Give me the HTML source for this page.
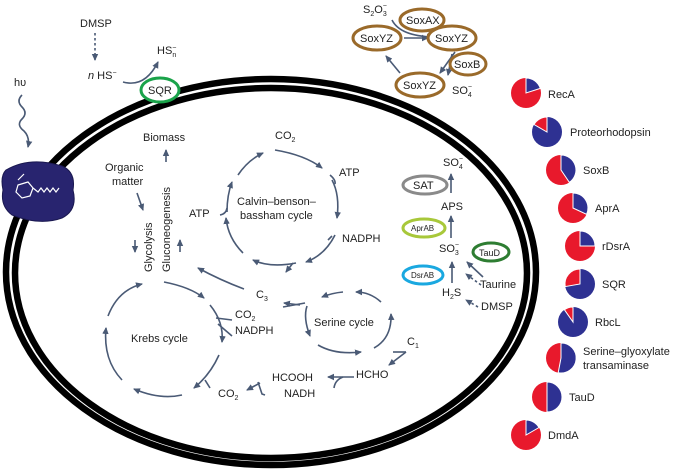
<!DOCTYPE html>
<html><head><meta charset="utf-8"><style>
html,body{margin:0;padding:0;background:#fff;}
svg{display:block;font-family:"Liberation Sans",sans-serif;}
text{fill:#222;font-size:11px;}
.a{fill:none;stroke:#4a5a75;stroke-width:1.6;marker-end:url(#ah);}
.d{fill:none;stroke:#4a5a75;stroke-width:1.6;stroke-dasharray:2.5 2.5;marker-end:url(#ah);}
.l{fill:none;stroke:#4a5a75;stroke-width:1.6;}
.s{font-size:7px;}
</style></head><body>
<svg width="685" height="474" viewBox="0 0 685 474">
<defs>
<marker id="ah" markerWidth="8" markerHeight="8" refX="6" refY="4" orient="auto" markerUnits="userSpaceOnUse">
<path d="M0,0.8 L7,4 L0,7.2 Z" fill="#4a5a75"/></marker>
</defs>
<!-- membrane -->
<ellipse cx="271" cy="272" rx="265" ry="193" fill="none" stroke="#000" stroke-width="6.5"/>
<ellipse cx="271" cy="273" rx="256" ry="185" fill="none" stroke="#000" stroke-width="6.5"/>
<!-- protein -->
<path d="M6,170 Q30,156 62,166 Q76,172 73,190 Q78,210 62,218 Q40,226 12,215 Q0,206 3,190 Q0,176 6,170Z" fill="#28246f" stroke="#1a1850" stroke-width="1"/>
<path d="M18,180 L24,174 M18,185 L28,182 L33,188 L30,196 L22,198 L16,192 Z M33,188 L38,192 L41,188 L44,192 L47,188 L50,192 L53,188 L56,192 L59,188" fill="none" stroke="#fff" stroke-width="1.2"/>
<!-- hv -->
<text x="14" y="86">hυ</text>
<path class="a" d="M22,95 q-6,6 0,12 q6,6 0,12 q-6,6 2,12 q6,6 4,16"/>
<!-- DMSP top -->
<text x="80" y="27">DMSP</text>
<path class="d" d="M95,33 L95,60"/>
<text x="88" y="79"><tspan font-style="italic">n</tspan> HS<tspan dy="-4" class="s">−</tspan></text>
<path class="a" d="M123,82 Q145,88 158,62"/>
<text x="157" y="54">HS<tspan dy="-4" class="s">−</tspan><tspan dx="-4" dy="7" class="s">n</tspan></text>
<ellipse cx="160" cy="90" rx="19" ry="12" fill="#fff" stroke="#1aa34a" stroke-width="3"/>
<text x="148" y="94">SQR</text>
<!-- Sox -->
<text x="363" y="13">S<tspan dy="3" class="s">2</tspan><tspan dy="-3">O</tspan><tspan dy="3" class="s">3</tspan><tspan dy="-8" dx="-4" class="s">−</tspan></text>
<path class="a" d="M392,20 Q400,36 433,37"/>
<path class="a" d="M404,38 L428,38"/>
<path class="a" d="M455,52 L440,73"/>
<path class="a" d="M452,54 L448,75"/>
<path class="a" d="M400,73 L386,56"/>
<g fill="#fff" stroke="#9a6a2a" stroke-width="3">
<ellipse cx="422" cy="20" rx="22" ry="11"/>
<ellipse cx="377" cy="38" rx="24" ry="12"/>
<ellipse cx="452" cy="38" rx="24" ry="12"/>
<ellipse cx="468" cy="64" rx="18" ry="11"/>
<ellipse cx="420" cy="85" rx="24" ry="12"/>
</g>
<text x="406" y="24">SoxAX</text>
<text x="360" y="42">SoxYZ</text>
<text x="435" y="42">SoxYZ</text>
<text x="454" y="68">SoxB</text>
<text x="403" y="89">SoxYZ</text>
<text x="452" y="94">SO<tspan dy="3" class="s">4</tspan><tspan dy="-8" dx="-4" class="s">−</tspan></text>
<!-- Glycolysis -->
<text x="143" y="141">Biomass</text>
<path class="a" d="M166,162 L166,150"/>
<text x="105" y="171">Organic</text>
<text x="112" y="185">matter</text>
<path class="a" d="M137,193 L143,210"/>
<path class="a" d="M135,240 L135,252"/>
<path class="a" d="M180,252 L180,240"/>
<text transform="translate(152,272) rotate(-90)">Glycolysis</text>
<text transform="translate(170,272) rotate(-90)">Gluconeogenesis</text>
<!-- Calvin -->
<text x="275" y="139">CO<tspan dy="3" class="s">2</tspan></text>
<text x="339" y="176">ATP</text>
<text x="189" y="217">ATP</text>
<text x="342" y="242">NADPH</text>
<text x="237" y="205">Calvin–benson–</text>
<text x="240" y="219">bassham cycle</text>
<path class="a" d="M275,150 Q305,155 322,168"/>
<path class="l" d="M330,175 Q336,180 335,184"/>
<path class="a" d="M332,180 Q340,195 337,218"/>
<path class="a" d="M335,235 Q325,255 306,262"/>
<path class="l" d="M328,240 L332,236"/>
<path class="a" d="M296,263 Q270,268 253,260"/>
<path class="a" d="M293,263 L286,272"/>
<path class="a" d="M243,253 Q228,238 226,218"/>
<path class="a" d="M227,212 Q227,195 232,182"/>
<path class="l" d="M220,215 Q226,214 227,208"/>
<path class="a" d="M238,175 Q248,160 263,153"/>
<!-- C3 -->
<text x="256" y="298">C<tspan dy="3" class="s">3</tspan></text>
<path class="a" d="M244,289 Q220,280 198,268"/>
<!-- Krebs -->
<text x="131" y="342">Krebs cycle</text>
<path class="a" d="M164,282 Q190,287 204,298"/>
<path class="a" d="M210,305 Q224,322 222,342"/>
<path class="l" d="M216,318 L232,320 M218,324 L232,336"/>
<path class="a" d="M219,355 Q210,375 194,388"/>
<path class="l" d="M205,380 L210,388"/>
<path class="a" d="M182,395 Q160,400 134,389"/>
<path class="a" d="M122,380 Q103,360 106,328"/>
<path class="a" d="M108,316 Q118,290 142,284"/>
<text x="235" y="318">CO<tspan dy="3" class="s">2</tspan></text>
<text x="235" y="334">NADPH</text>
<!-- bottom -->
<text x="218" y="397">CO<tspan dy="3" class="s">2</tspan></text>
<path class="a" d="M260,383 L247,390"/>
<path class="l" d="M258,382 L262,394 L265,395"/>
<text x="272" y="381">HCOOH</text>
<text x="284" y="397">NADH</text>
<path class="a" d="M354,377 L328,377"/>
<path class="l" d="M343,377 Q335,380 334,388"/>
<text x="356" y="378">HCHO</text>
<path class="a" d="M406,352 L389,365"/>
<path class="l" d="M406,352 L393,352"/>
<text x="407" y="345">C<tspan dy="3" class="s">1</tspan></text>
<!-- Serine -->
<text x="314" y="326">Serine cycle</text>
<path class="a" d="M307,306 Q303,318 310,336"/>
<path class="l" d="M283,307 L305,303"/>
<path class="a" d="M300,305 L284,303"/>
<path class="a" d="M318,345 Q335,355 361,352"/>
<path class="a" d="M374,348 Q392,338 391,314"/>
<path class="a" d="M381,302 Q370,292 356,292"/>
<path class="a" d="M343,292 Q332,293 322,297"/>
<!-- sulfur right -->
<text x="443" y="166">SO<tspan dy="3" class="s">4</tspan><tspan dy="-8" dx="-4" class="s">−</tspan></text>
<path class="a" d="M451,193 L451,174"/>
<ellipse cx="425" cy="185" rx="22" ry="9" fill="#fff" stroke="#8a8a8a" stroke-width="3"/>
<text x="413" y="189">SAT</text>
<text x="441" y="210">APS</text>
<path class="a" d="M451,238 L451,216"/>
<ellipse cx="424" cy="228" rx="21" ry="9" fill="#fff" stroke="#a8c83a" stroke-width="3"/>
<text x="411" y="231" style="font-size:8px">AprAB</text>
<text x="439" y="252">SO<tspan dy="3" class="s">3</tspan><tspan dy="-8" dx="-4" class="s">−</tspan></text>
<ellipse cx="491" cy="252" rx="18" ry="9" fill="#fff" stroke="#2e7d32" stroke-width="3"/>
<text x="479" y="256" style="font-size:9px">TauD</text>
<path class="a" d="M452,283 L452,262"/>
<ellipse cx="423" cy="275" rx="20" ry="9" fill="#fff" stroke="#1aa8e0" stroke-width="3"/>
<text x="411" y="278" style="font-size:8px">DsrAB</text>
<text x="442" y="296">H<tspan dy="3" class="s">2</tspan><tspan dy="-3">S</tspan></text>
<path class="a" d="M483,277 L467,262"/>
<text x="480" y="288">Taurine</text>
<path class="d" d="M481,285 L466,274"/>
<text x="481" y="310">DMSP</text>
<path class="d" d="M478,307 L466,300"/>
<!-- pies -->
<g>
<circle cx="526" cy="93" r="15" fill="#e8192c"/><path d="M526,93 L526,78 A15,15 0 0,1 540.3,88.4 Z" fill="#2e3192" stroke="#fff" stroke-width="1"/>
<text x="548" y="98">RecA</text>
<circle cx="547" cy="132" r="15" fill="#2e3192"/><path d="M547,132 L547,117 A15,15 0 0,0 534,124.5 Z" fill="#e8192c" stroke="#fff" stroke-width="1"/>
<text x="570" y="136">Proteorhodopsin</text>
<circle cx="561" cy="170" r="15" fill="#e8192c"/><path d="M561,170 L561,155 A15,15 0 0,1 569.4,182.4 Z" fill="#2e3192" stroke="#fff" stroke-width="1"/>
<text x="583" y="174">SoxB</text>
<circle cx="573" cy="208" r="15" fill="#e8192c"/><path d="M573,208 L573,193 A15,15 0 0,1 586.6,214.3 Z" fill="#2e3192" stroke="#fff" stroke-width="1"/>
<text x="595" y="212">AprA</text>
<circle cx="580" cy="246" r="15" fill="#e8192c"/><path d="M580,246 L580,231 A15,15 0 0,1 595,246 Z" fill="#2e3192" stroke="#fff" stroke-width="1"/>
<text x="602" y="250">rDsrA</text>
<circle cx="580" cy="284" r="15" fill="#2e3192"/><path d="M580,284 L580,269 A15,15 0 0,0 565.2,286.6 Z" fill="#e8192c" stroke="#fff" stroke-width="1"/>
<text x="602" y="288">SQR</text>
<circle cx="573" cy="322" r="15" fill="#2e3192"/><path d="M573,322 L573,307 A15,15 0 0,0 564.4,309.7 Z" fill="#e8192c" stroke="#fff" stroke-width="1"/>
<text x="595" y="326">RbcL</text>
<circle cx="561" cy="358" r="15" fill="#e8192c"/><path d="M561,358 L561,343 A15,15 0 1,1 558.2,372.7 Z" fill="#2e3192" stroke="#fff" stroke-width="1"/>
<text x="583" y="355">Serine–glyoxylate</text>
<text x="583" y="369">transaminase</text>
<circle cx="547" cy="397" r="15" fill="#e8192c"/><path d="M547,397 L547,382 A15,15 0 0,1 547,412 Z" fill="#2e3192" stroke="#fff" stroke-width="1"/>
<text x="569" y="401">TauD</text>
<circle cx="526" cy="435" r="15" fill="#e8192c"/><path d="M526,435 L526,420 A15,15 0 0,1 539,427.5 Z" fill="#2e3192" stroke="#fff" stroke-width="1"/>
<text x="548" y="439">DmdA</text>
</g>
</svg>
</body></html>
